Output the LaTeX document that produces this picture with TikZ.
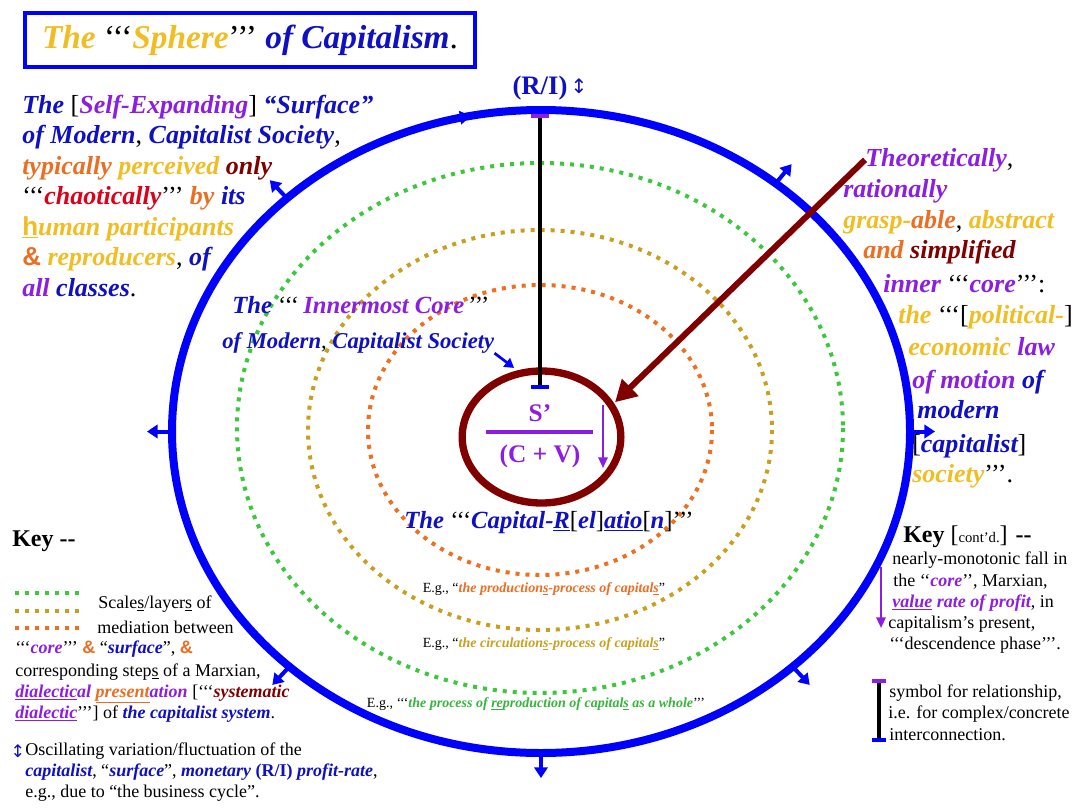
\documentclass[tikz,border=0pt]{standalone}
\usepackage{fontspec}
\setmainfont{Liberation Serif}
\newfontfamily\sansbf{Liberation Sans}
\newfontfamily\symbfont{DejaVu Sans}
\usepackage{tikz}
\usetikzlibrary{positioning,calc,arrows.meta,shapes.geometric}
\definecolor{SphereBlue}{RGB}{0,0,255}
\definecolor{WordBlue}{RGB}{15,15,195}
\definecolor{WordPurple}{RGB}{140,30,225}
\definecolor{WordGold}{RGB}{240,190,35}
\definecolor{WordOrange}{RGB}{235,110,35}
\definecolor{WordRed}{RGB}{220,0,25}
\definecolor{CoreRed}{RGB}{128,0,0}
\definecolor{WordGreen}{RGB}{55,180,60}
\definecolor{LayerGreen}{RGB}{60,200,60}
\definecolor{LayerOchre}{RGB}{200,160,30}
\definecolor{LayerOrange}{RGB}{240,110,30}
\newcommand{\wBlue}[1]{{\color{WordBlue}\bfseries\itshape #1}}
\newcommand{\wPurp}[1]{{\color{WordPurple}\bfseries\itshape #1}}
\newcommand{\wGold}[1]{{\color{WordGold}\bfseries\itshape #1}}
\newcommand{\wOran}[1]{{\color{WordOrange}\bfseries\itshape #1}}
\newcommand{\wDark}[1]{{\color{CoreRed}\bfseries\itshape #1}}
\newcommand{\wRed}[1]{{\color{WordRed}\bfseries\itshape #1}}
\newcommand{\wOchre}[1]{{\color{LayerOchre}\bfseries\itshape #1}}
\newcommand{\wGreen}[1]{{\color{WordGreen}\bfseries\itshape #1}}
\newcommand{\wAmp}{{\sansbf\bfseries\color{WordOrange}\&}}
\tikzset{
  bigtxt/.style={font=\fontsize{19.5}{24}\selectfont,anchor=base west,inner sep=0pt},
  coretxt/.style={font=\fontsize{17}{20}\selectfont,inner sep=0pt},
  keytxt/.style={font=\fontsize{13.5}{16}\selectfont,anchor=base west,inner sep=0pt},
  keyhead/.style={font=\fontsize{18}{22}\selectfont,anchor=base west,inner sep=0pt},
  egtxt/.style={font=\fontsize{10.5}{12}\selectfont,anchor=base,inner sep=0pt},
  fractxt/.style={font=\fontsize{19}{22}\selectfont\bfseries,text=WordPurple,inner sep=0pt},
  titlebox/.style={draw=SphereBlue,line width=3pt,minimum width=337.5pt,minimum height=40.5pt,
    font=\fontsize{25}{28}\selectfont},
  sphere/.style={draw=SphereBlue,line width=6pt},
  layer/.style={line width=3pt,dash pattern=on 3pt off 4.5pt},
  expand/.style={draw=SphereBlue,line width=3pt,-{Triangle[length=8pt,width=10pt]}},
  corering/.style={ellipse,draw=CoreRed,line width=5.5pt,minimum width=119pt,
    minimum height=99pt,inner sep=0pt},
  pointer/.style={draw=CoreRed,line width=4.5pt,-{Triangle[length=16pt,width=17pt]},shorten >=1pt},
  tagarrow/.style={draw=SphereBlue,line width=2pt,-{Triangle[length=7pt,width=8pt]},shorten >=3pt},
  fall/.style={draw=WordPurple,line width=1.6pt,-{Triangle[length=8pt,width=7pt]}},
  relline/.style={draw=black,line width=3pt},
  relcap/.style={line width=3pt},
  fracbar/.style={draw=WordPurple,line width=2.5pt},
}

\begin{document}
\begin{tikzpicture}[x=0.75pt,y=-0.75pt]
\useasboundingbox (0,0) rectangle (1080,810);
\fill[white] (0,0) rectangle (1080,810);
% layers of mediation
\coordinate (mid) at (540,430);
\draw[layer,LayerGreen] (540,428) ellipse [x radius=303,y radius=265];
\draw[layer,LayerOchre] (mid) ellipse [x radius=232,y radius=200];
\draw[layer,LayerOrange] (mid) ellipse [x radius=172,y radius=145];
% the surface and its expansion
\coordinate (sc) at (541,431.5);
\draw[sphere] (sc) ellipse [x radius=369,y radius=321.5];
\foreach \a in {180,0,90,-133.5,-50.5,133,47}
  \draw[expand] ($(sc)+(\a:369 and 321.5)$) -- ($(sc)+(\a:394 and 346.5)$);
\draw[expand] ($(sc)+(-108:369 and 321.5)$) arc[start angle=-108,end angle=-101,x radius=369,y radius=321.5];
% the core
\node[corering] (core) at (541.5,437) {};
\node[fractxt] (sprime) at (540,413) {S’};
\node[fractxt] (cv) at (540,456) {(C + V)};
\draw[fracbar] (486,432) -- (593,432);
\coordinate (fallTop) at (603,405);
\coordinate (fallBot) at (603,468);
\draw[fall] (fallTop) -- (fallBot);
\coordinate (relTop) at (540,116);
\coordinate (relBot) at (540,387);
\draw[relline] (relTop) -- (relBot);
\draw[relcap,WordPurple] ($(relTop)+(-9,0)$) -- ($(relTop)+(9,0)$);
\draw[relcap,SphereBlue] ($(relBot)+(-9,0)$) -- ($(relBot)+(9,0)$);
\node[font=\fontsize{20}{24}\selectfont\bfseries,text=WordBlue,anchor=base,inner sep=0pt] (ri) at (540,94) {(R/I)};
\node[font=\symbfont\fontsize{15}{18}\selectfont,text=WordBlue,inner sep=0pt] (riosc) at (579,86) {↕};
% title
\node[titlebox] (title) at (250,40) {\wGold{The} ‘‘‘\wGold{Sphere}’’’ \wBlue{of Capitalism}.};
% surface text
\node[bigtxt] (surf1) at (22,113) {\wBlue{The} [\wPurp{Self-Expanding}] \wBlue{“Surface”}};
\node[bigtxt] (surf2) at (22,143.5) {\wBlue{of Modern}, \wBlue{Capitalist Society},};
\node[bigtxt] (surf3) at (22,174) {\wOran{typically} \wGold{perceived} \wDark{only}};
\node[bigtxt] (surf4) at (22,204.5) {‘‘‘\wRed{chaotically}’’’ \wOran{by} \wBlue{its}};
\node[bigtxt] (surf5) at (22,235) {{\sansbf\bfseries\color{WordGold}\underline{h}}\wGold{uman participants}};
\node[bigtxt] (surf6) at (22,265.5) {\wAmp{} \wGold{reproducers}, \wBlue{of}};
\node[bigtxt] (surf7) at (22,296) {\wPurp{all} \wBlue{classes}.};
% law of motion text
\node[bigtxt] (theo) at (865,166) {\wPurp{Theoretically},};
\node[bigtxt] (law2) at (843,197) {\wPurp{rationally}};
\node[bigtxt] (law3) at (843,228) {\wGold{grasp-}\wOran{able}, \wGold{abstract}};
\node[bigtxt] (law4) at (863,258) {\wOran{and} \wDark{simplified}};
\node[bigtxt] (law5) at (883,292) {\wPurp{inner} ‘‘‘\wPurp{core}’’’:};
\node[bigtxt] (law6) at (898,323) {\wGold{the} ‘‘‘[\wGold{political-}]};
\node[bigtxt] (law7) at (908,355) {\wGold{economic} \wPurp{law}};
\node[bigtxt] (law8) at (912,388) {\wPurp{of motion} \wBlue{of}};
\node[bigtxt] (law9) at (917,418) {\wBlue{modern}};
\node[bigtxt] (law10) at (912,452) {[\wBlue{capitalist}]};
\node[bigtxt] (law11) at (912,482) {\wGold{society}’’’.};
% core labels
\node[coretxt,anchor=base west,font=\fontsize{18.5}{22}\selectfont] (inner) at (232,313) {\wBlue{The} ‘‘‘\,\wPurp{Innermost Core}\,’’’};
\node[coretxt,anchor=base west] (soc) at (222,348) {\wBlue{of Modern}, \wBlue{Capitalist Society}};
\node[coretxt,anchor=base,font=\fontsize{18.5}{22}\selectfont] (caprel) at (549,528) {\wBlue{The} ‘‘‘\wBlue{Capital-\underline{R}}[\wBlue{el}]\wBlue{\underline{atio}}[\wBlue{n}]’’’};
\draw[tagarrow] (soc.south east) -- (core.110);
\draw[pointer] (theo.west) -- (core.25);
% examples of the layers
\node[egtxt] (eg1) at (544,592) {E.g., “\wOran{the production\underline{s}-process of capital\underline{s}}”};
\node[egtxt] (eg2) at (544,647) {E.g., “\wOchre{the circulation\underline{s}-process of capital\underline{s}}”};
\node[egtxt] (eg3) at (536,707) {E.g., ‘‘‘\wGreen{the process of \underline{re}production of capital\underline{s} as a whole}’’’};
% key
\node[keyhead] (key) at (12,546) {\bfseries Key -{}-};
\draw[layer,LayerGreen] (15,593) -- (85,593);
\draw[layer,LayerOchre] (15,611) -- (85,611);
\draw[layer,LayerOrange] (15,628) -- (85,628);
\node[keytxt] (keyA) at (98,608) {Scale\underline{s}/layer\underline{s} of};
\node[keytxt] (keyB) at (97,633) {mediation between};
\node[keytxt] (keyC) at (15,653) {‘‘‘\wPurp{core}’’’ \wAmp{} “\wBlue{surface}”, \wAmp};
\node[keytxt] (keyD) at (15,676) {corresponding step\underline{s} of a Marxian,};
\node[keytxt] (keyE) at (15,697) {\wPurp{\underline{dialectic}al} \wOran{\underline{present}}\wPurp{ation} [‘‘‘\wDark{systematic}};
\node[keytxt] (keyF) at (15,718) {\wPurp{\underline{dialectic}}’’’] of \wBlue{the capitalist system}.};
\node[font=\symbfont\fontsize{13}{15}\selectfont,text=WordBlue,inner sep=0pt] (keyosc) at (18,751) {↕};
\node[keytxt] (keyG) at (25,755) {Oscillating variation/fluctuation of the};
\node[keytxt] (keyH) at (25,776) {\wBlue{capitalist}, “\wBlue{surface}”, \wBlue{monetary} {\color{WordBlue}\bfseries(R/I)} \wBlue{profit-rate},};
\node[keytxt] (keyI) at (25,797) {e.g., due to “the business cycle”.};
% key, continued
\node[keyhead] (key2) at (903,542) {\bfseries Key \mdseries[{\fontsize{11}{13}\selectfont cont’d.}] \bfseries -{}-};
\coordinate (keyFallTop) at (881,567);
\coordinate (keyFallBot) at (881,628);
\draw[fall] (keyFallTop) -- (keyFallBot);
\node[keytxt] (fall1) at (892,564) {nearly-monotonic fall in};
\node[keytxt] (fall2) at (893,586) {the ‘‘\wPurp{core}’’, Marxian,};
\node[keytxt] (fall3) at (892,607) {\wPurp{\underline{value} rate of profit}, in};
\node[keytxt] (fall4) at (888,628) {capitalism’s present,};
\node[keytxt] (fall5) at (889,649) {‘‘‘descendence phase’’’.};
\coordinate (keyRelTop) at (879,681);
\coordinate (keyRelBot) at (879,740);
\draw[relline] (keyRelTop) -- (keyRelBot);
\draw[relcap,WordPurple] ($(keyRelTop)+(-7,0)$) -- ($(keyRelTop)+(7,0)$);
\draw[relcap,SphereBlue] ($(keyRelBot)+(-7,0)$) -- ($(keyRelBot)+(7,0)$);
\node[keytxt] (sym1) at (889,697) {symbol for relationship,};
\node[keytxt] (sym2) at (888,718) {i.e. for complex/concrete};
\node[keytxt] (sym3) at (889,740) {interconnection.};
\end{tikzpicture}
\end{document}
